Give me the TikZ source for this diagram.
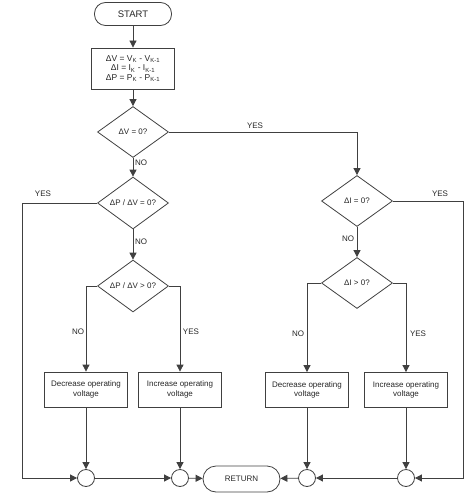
\documentclass[tikz,border=0pt]{standalone}
\usepackage{fontspec}
\setmainfont{Liberation Sans}
\usetikzlibrary{shapes.geometric,arrows.meta}
\definecolor{ln}{HTML}{404040}
\begin{document}
\begin{tikzpicture}[x=1pt,y=-1pt,
  every node/.style={font=\fontsize{8}{9.5}\selectfont, text=black!85},
  line/.style={draw=ln, line width=0.8pt},
  arr/.style={line, -{Triangle[length=7pt,width=7pt]}},
  term/.style={line, rectangle, rounded corners=11pt, minimum width=77pt, minimum height=23pt, inner sep=0pt},
  dec/.style={line, diamond, minimum width=71pt, minimum height=51pt, inner sep=0pt},
  proc/.style={line, rectangle, minimum width=83pt, minimum height=35pt, inner sep=1pt, align=center},
  junc/.style={line, circle, minimum size=17pt, inner sep=0pt},
  lab/.style={inner sep=0pt}]
\useasboundingbox (0,0) rectangle (474,497);
\node[term] (start) at (133,14) {\fontsize{9.5}{11}\selectfont START};
\node[proc, minimum height=41pt, align=center, font=\fontsize{8.5}{9.5}\selectfont] (calc) at (133,68.5)
  {ΔV = V\textsubscript{K} - V\textsubscript{K-1}\\
   ΔI = I\textsubscript{K} - I\textsubscript{K-1}\\
   ΔP = P\textsubscript{K} - P\textsubscript{K-1}};
\node[dec] (d1) at (133,132) {ΔV = 0?};
\node[dec] (d2) at (133,203) {ΔP / ΔV = 0?};
\node[dec] (d3) at (133,286) {ΔP / ΔV > 0?};
\node[dec] (d4) at (357,201) {ΔI = 0?};
\node[dec] (d5) at (357,283) {ΔI > 0?};
\node[proc] (b1) at (86,389.5) {Decrease operating\\voltage};
\node[proc] (b2) at (180,389.5) {Increase operating\\voltage};
\node[proc] (b3) at (307,390) {Decrease operating\\voltage};
\node[proc] (b4) at (406,390) {Increase operating\\voltage};
\node[junc] (c1) at (86,478) {};
\node[junc] (c2) at (180,478) {};
\node[junc] (c3) at (307,478) {};
\node[junc] (c4) at (406,478) {};
\node[term, minimum height=26pt, rounded corners=13pt] (ret) at (241.5,479) {RETURN};
\coordinate (lc) at (22,478);
\coordinate (rc) at (463,478);

\draw[arr] (start) -- (calc);
\draw[arr] (calc) -- (d1);
\draw[arr] (d1) -- (d2);
\draw[arr] (d2) -- (d3);
\draw[arr] (d1.east) -| (d4.north);
\draw[arr] (d4) -- (d5);
\draw[arr] (d3.west) -| (b1.north);
\draw[arr] (d3.east) -| (b2.north);
\draw[arr] (d5.west) -| (b3.north);
\draw[arr] (d5.east) -| (b4.north);
\draw[arr] (b1) -- (c1);
\draw[arr] (b2) -- (c2);
\draw[arr] (b3) -- (c3);
\draw[arr] (b4) -- (c4);
\draw[arr] (d2.west) -| (lc) -- (c1);
\draw[arr] (d4.east) -| (rc) -- (c4);
\draw[arr] (c1) -- (c2);
\draw[arr] (c2) -- (ret);
\draw[arr] (c3) -- (ret);
\draw[arr] (c4) -- (c3);

\node[lab] at (255,126) {YES};
\node[lab, anchor=west] at (135,163) {NO};
\node[lab] at (43,194) {YES};
\node[lab, anchor=west] at (135,242) {NO};
\node[lab] at (78,332) {NO};
\node[lab] at (191,332) {YES};
\node[lab] at (440,194) {YES};
\node[lab] at (348,239) {NO};
\node[lab] at (298,334) {NO};
\node[lab] at (418,334) {YES};
\end{tikzpicture}
\end{document}
